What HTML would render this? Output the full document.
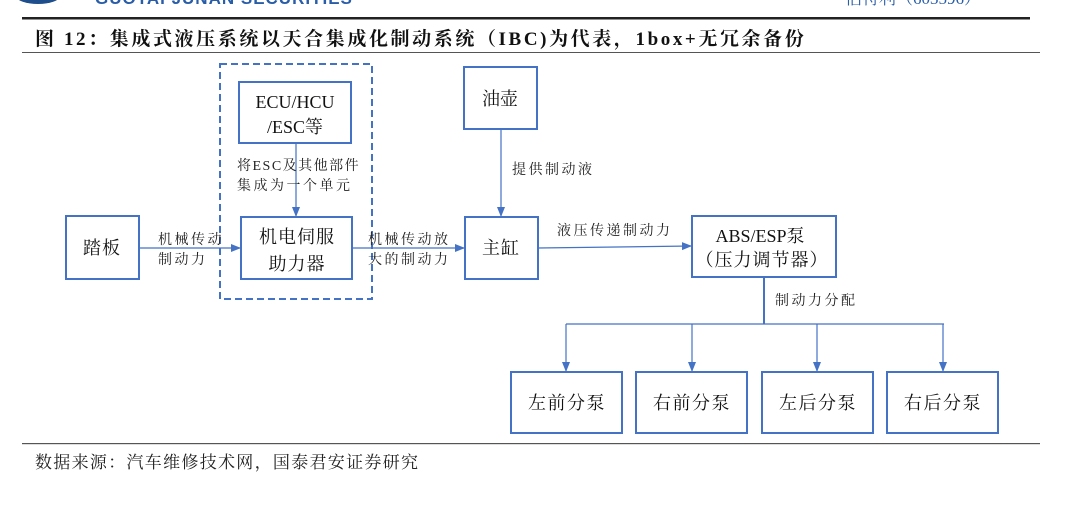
<!DOCTYPE html>
<html><head><meta charset="utf-8"><style>
body{margin:0;width:1074px;height:505px;background:#fff;overflow:hidden;font-family:"Liberation Serif","Noto Serif CJK SC",serif}
svg{display:block}
</style></head><body>
<svg width="1074" height="505" viewBox="0 0 1074 505" xmlns="http://www.w3.org/2000/svg" font-family="'Liberation Serif','Noto Serif CJK SC',serif">
<defs><marker id="a" markerWidth="10" markerHeight="10" refX="9" refY="5" orient="auto" markerUnits="userSpaceOnUse"><path d="M0,1 L10,5 L0,9z" fill="#4472c4"/></marker></defs>
<ellipse cx="38" cy="-4" rx="22" ry="8" fill="#1f4e8c"/>
<text x="95" y="4" font-family="'Liberation Sans',sans-serif" font-weight="bold" font-size="17" fill="#2a5da8" letter-spacing="1">GUOTAI JUNAN SECURITIES</text>
<text x="845" y="4" font-size="17" fill="#2a5da8">伯特利（603596）</text>
<rect x="22" y="17" width="1008" height="2.5" fill="#222"/>
<text x="35" y="45" font-size="19" font-weight="bold" fill="#111" letter-spacing="2.6">图 12：集成式液压系统以天合集成化制动系统（IBC)为代表，1box+无冗余备份</text>
<rect x="22" y="52" width="1018" height="1" fill="#555"/>
<rect x="22" y="443" width="1018" height="1.2" fill="#555"/>
<text x="35" y="468" font-size="17" fill="#222" letter-spacing="1.3">数据来源：汽车维修技术网，国泰君安证券研究</text>
<g fill="none" stroke="#4472c4" stroke-width="2">
<rect x="220" y="64" width="152" height="235" stroke-dasharray="7,4"/>
<rect x="66" y="216" width="73" height="63"/>
<rect x="239" y="82" width="112" height="61"/>
<rect x="241" y="217" width="111" height="62"/>
<rect x="464" y="67" width="73" height="62"/>
<rect x="465" y="217" width="73" height="62"/>
<rect x="692" y="216" width="144" height="61"/>
<rect x="511" y="372" width="111" height="61"/>
<rect x="636" y="372" width="111" height="61"/>
<rect x="762" y="372" width="111" height="61"/>
<rect x="887" y="372" width="111" height="61"/>
</g>
<g stroke="#4472c4" stroke-width="1.2" fill="none">
<line x1="139" y1="248" x2="240" y2="248" marker-end="url(#a)"/>
<line x1="352" y1="248" x2="464" y2="248" marker-end="url(#a)"/>
<line x1="296" y1="143" x2="296" y2="216" marker-end="url(#a)"/>
<line x1="501" y1="129" x2="501" y2="216" marker-end="url(#a)"/>
<line x1="538" y1="248" x2="691" y2="246" marker-end="url(#a)"/>
<line x1="764" y1="277" x2="764" y2="324" stroke-width="2"/>
<line x1="566" y1="324" x2="944" y2="324"/>
<line x1="566" y1="324" x2="566" y2="371" marker-end="url(#a)"/>
<line x1="692" y1="324" x2="692" y2="371" marker-end="url(#a)"/>
<line x1="817" y1="324" x2="817" y2="371" marker-end="url(#a)"/>
<line x1="943" y1="324" x2="943" y2="371" marker-end="url(#a)"/>
</g>
<g font-size="18" fill="#111" text-anchor="middle">
<text x="102" y="254" letter-spacing="1">踏板</text>
<text x="295" y="108">ECU/HCU</text>
<text x="295" y="133">/ESC等</text>
<text x="297" y="243" letter-spacing="1">机电伺服</text>
<text x="297" y="270" letter-spacing="1">助力器</text>
<text x="500" y="105">油壶</text>
<text x="501" y="254" letter-spacing="1">主缸</text>
<text x="760" y="242">ABS/ESP泵</text>
<text x="762" y="266" letter-spacing="1">（压力调节器）</text>
<text x="567" y="409" letter-spacing="1.5">左前分泵</text>
<text x="692" y="409" letter-spacing="1.5">右前分泵</text>
<text x="818" y="409" letter-spacing="1.5">左后分泵</text>
<text x="943" y="409" letter-spacing="1.5">右后分泵</text>
</g>
<g font-size="14" fill="#222" letter-spacing="2.5">
<text x="237" y="170" letter-spacing="1.5">将ESC及其他部件</text>
<text x="237" y="190">集成为一个单元</text>
<text x="158" y="244">机械传动</text>
<text x="158" y="264">制动力</text>
<text x="368" y="244">机械传动放</text>
<text x="368" y="264">大的制动力</text>
<text x="512" y="174">提供制动液</text>
<text x="557" y="235">液压传递制动力</text>
<text x="775" y="305">制动力分配</text>
</g>
</svg>
</body></html>
